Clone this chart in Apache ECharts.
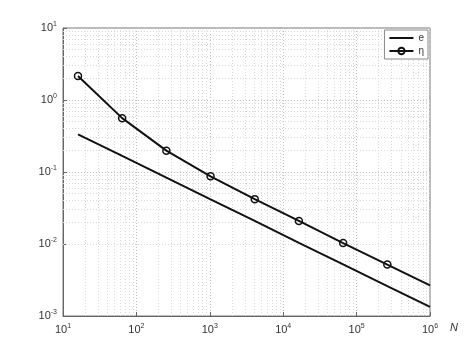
<!DOCTYPE html>
<html>
<head>
<meta charset="utf-8">
<script src="https://cdn.jsdelivr.net/npm/echarts@6/dist/echarts.min.js"></script>
<style>
  html, body { margin: 0; padding: 0; background: #fff; }
  #chart { width: 474px; height: 355px; }
</style>
</head>
<body>
<div id="chart"></div>
<script>
// sample sizes N (markers)
const nValues = [16, 64, 256, 1024, 4096, 16384, 65536, 262144, 1000000];
// error e (plain line)
const eValues = [0.334, 0.167, 0.0835, 0.0418, 0.0209, 0.0104, 0.0052, 0.0026, 0.00134];
// estimator eta (line with circles, last point has no marker)
const etaValues = [2.15, 0.56, 0.198, 0.087, 0.042, 0.0209, 0.0103, 0.00518, 0.00267];
const seriesNames = ['e', 'η'];

const chart = echarts.init(document.getElementById('chart'));

// minor grid positions 2..9 per decade
const xMinor = [];
for (let d = 10; d < 1e6; d *= 10) for (let k = 2; k <= 9; k++) xMinor.push(k * d);
const yMinor = [];
for (let d = 1e-3; d < 10; d *= 10) for (let k = 2; k <= 9; k++) yMinor.push(+(k * d).toPrecision(3));

const supLabel = v => {
  const p = Math.round(Math.log10(v));
  return '{b|10}{s|' + p + '}';
};
const labelRich = {
  b: { fontSize: 11, color: '#333', fontFamily: 'Liberation Sans' },
  s: { fontSize: 7, color: '#333', fontFamily: 'Liberation Sans', verticalAlign: 'bottom', padding: [0, 0, 7, 0] }
};
const gridDot = { color: '#bdbdbd', type: [1, 2], width: 1 };

const option = {
  animation: false,
  grid: { left: 63, right: 44, top: 28, bottom: 39, show: true, borderColor: '#777', borderWidth: 1 },
  legend: {
    right: 46, top: 30, orient: 'vertical',
    data: [
      { name: seriesNames[0], itemStyle: { color: 'rgba(0,0,0,0)', borderWidth: 0 } },
      { name: seriesNames[1] }
    ],
    itemWidth: 24, itemHeight: 8, itemGap: 3,
    padding: [3, 4, 3, 4],
    borderColor: '#888', borderWidth: 1, backgroundColor: '#fff',
    textStyle: { fontSize: 10, color: '#333', fontFamily: 'Liberation Sans' }
  },
  xAxis: {
    type: 'log', logBase: 10, min: 10, max: 1e6,
    name: 'N', nameLocation: 'end', nameGap: 20,
    nameTextStyle: { fontStyle: 'italic', fontSize: 11, color: '#333', align: 'left', verticalAlign: 'top', padding: [6, 0, 0, 0], fontFamily: 'Liberation Sans' },
    axisLine: { lineStyle: { color: '#666' } },
    axisTick: { inside: true, length: 4, lineStyle: { color: '#666' } },
    axisLabel: { formatter: supLabel, rich: labelRich, margin: 7 },
    splitLine: { show: true, lineStyle: gridDot }
  },
  yAxis: {
    type: 'log', logBase: 10, min: 1e-3, max: 10,
    axisLine: { show: true, lineStyle: { color: '#666' } },
    axisTick: { show: true, inside: true, length: 4, lineStyle: { color: '#666' } },
    axisLabel: { formatter: supLabel, rich: labelRich, margin: 6 },
    splitLine: { show: true, lineStyle: gridDot }
  },
  series: [
    {
      // carrier for the minor grid lines, drawn under the data lines
      name: 'minorGrid', type: 'line', data: [], z: 1,
      markLine: {
        silent: true, symbol: 'none', label: { show: false }, animation: false, z: 1,
        lineStyle: { color: '#d8d8d8', type: [1, 2], width: 1 },
        data: xMinor.map(v => ({ xAxis: v })).concat(yMinor.map(v => ({ yAxis: v })))
      }
    },
    {
      name: seriesNames[0], type: 'line', symbol: 'none',
      data: nValues.map((n, i) => [n, eValues[i]]),
      lineStyle: { color: '#111', width: 2 },
      itemStyle: { color: '#111' },
      z: 3
    },
    {
      name: seriesNames[1], type: 'line', symbol: 'circle', symbolSize: 7,
      data: nValues.map((n, i) => i === nValues.length - 1
        ? { value: [n, etaValues[i]], symbol: 'none' }
        : [n, etaValues[i]]),
      lineStyle: { color: '#111', width: 2 },
      itemStyle: { color: 'rgba(0,0,0,0)', borderColor: '#111', borderWidth: 1.5 },
      z: 4
    }
  ]
};

chart.setOption(option);
</script>
</body>
</html>
